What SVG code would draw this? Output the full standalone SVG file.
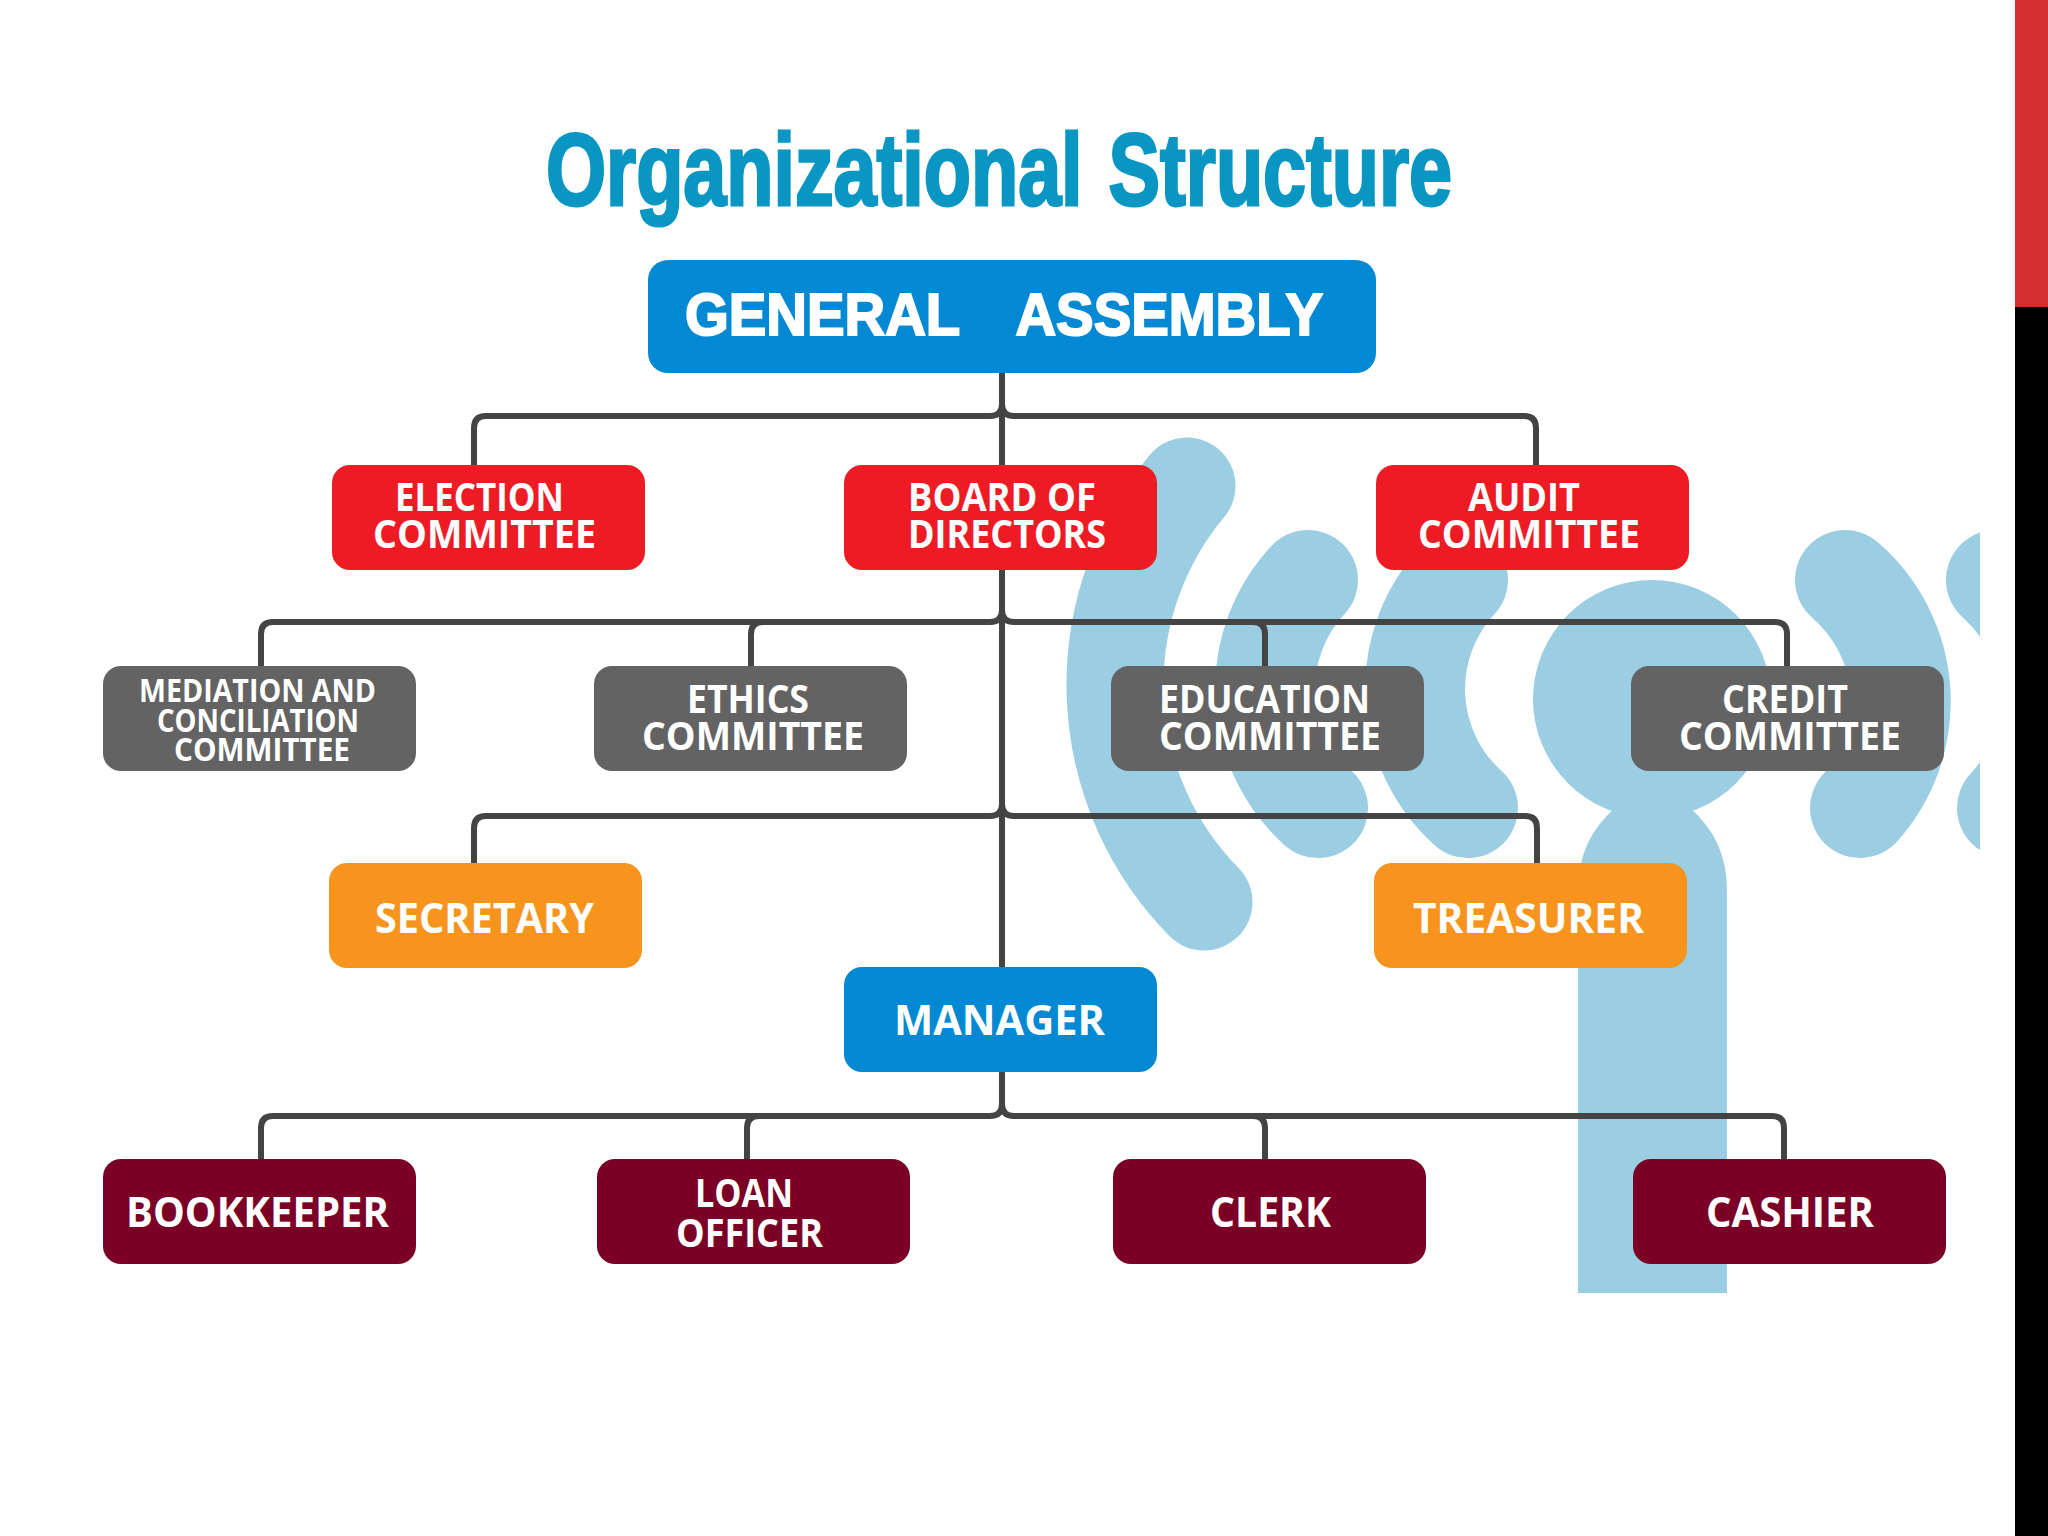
<svg xmlns="http://www.w3.org/2000/svg" width="2048" height="1536" viewBox="0 0 2048 1536">
<style>
.arc{fill:none;stroke:#9bcde3;stroke-width:100;stroke-linecap:round}
.c{fill:none;stroke:#444;stroke-width:6}
.t{font-family:"Open Sans","Liberation Sans",sans-serif;font-weight:700;fill:#fff;font-size:39px}
.s{font-size:32px}.l{font-size:42px}
.blue{fill:#0389d3}.red{fill:#ed1c24}.grey{fill:#636363}.orange{fill:#f7941d}.maroon{fill:#7a0026}
</style>
<defs><clipPath id="cut"><rect x="0" y="0" width="1980" height="1293"/></clipPath>
<rect id="box" width="313" height="105" rx="18"/></defs>
<rect width="2048" height="1536" fill="#fff"/>
<rect x="2015" y="0" width="33" height="307" fill="#d32f2f"/>
<rect x="2015" y="307" width="33" height="1229" fill="#000"/>
<g id="antenna" clip-path="url(#cut)">
<path class="arc" style="stroke-width:97" d="M1187 486A310 310 0 0 0 1204 902"/>
<path class="arc" d="M1308 580A160 160 0 0 0 1318 808"/>
<path class="arc" d="M1458 580A160 160 0 0 0 1468 808"/>
<path class="arc" d="M1845 580A160 160 0 0 1 1860 808"/>
<path class="arc" d="M1996 580A160 160 0 0 1 2007 808"/>
<circle cx="1652" cy="699" r="119" fill="#9bcde3"/>
<path d="M1578 1293V890Q1578 840 1615 808H1690Q1727 840 1727 890V1293Z" fill="#9bcde3"/>
</g>
<text x="546" y="205" font-family="Liberation Sans,sans-serif" font-weight="700" font-size="102" fill="#0a96c3" stroke="#0a96c3" stroke-width="3" word-spacing="6" textLength="906" lengthAdjust="spacingAndGlyphs">Organizational Structure</text>
<g id="connectors">
<path class="c" d="M1002 372V967M1002 1071V1104"/>
<path class="c" d="M474 465V428Q474 416 486 416H990Q1002 416 1002 404M1536 465V428Q1536 416 1524 416H1014Q1002 416 1002 404"/>
<path class="c" d="M261 666V634Q261 622 273 622H990Q1002 622 1002 610M751 666V634Q751 622 763 622M1787 666V634Q1787 622 1775 622H1014Q1002 622 1002 610M1265 666V634Q1265 622 1253 622"/>
<path class="c" d="M474 863V828Q474 816 486 816H990Q1002 816 1002 804M1537 863V828Q1537 816 1525 816H1014Q1002 816 1002 804"/>
<path class="c" d="M261 1159V1128Q261 1116 273 1116H990Q1002 1116 1002 1104M747 1159V1128Q747 1116 759 1116M1784 1159V1128Q1784 1116 1772 1116H1014Q1002 1116 1002 1104M1265 1159V1128Q1265 1116 1253 1116"/>
</g>
<g id="general-assembly"><rect class="blue" x="648" y="260" width="728" height="113" rx="20"/>
<text x="685" y="335" xml:space="preserve" font-family="Liberation Sans,sans-serif" font-weight="700" font-size="59" fill="#fff" stroke="#fff" stroke-width="2" word-spacing="4" textLength="638" lengthAdjust="spacingAndGlyphs">GENERAL   ASSEMBLY</text></g>
<g id="election"><use href="#box" class="red" x="332" y="465"/><text class="t" x="395" y="511" textLength="169" lengthAdjust="spacingAndGlyphs">ELECTION</text><text class="t" x="373" y="548" textLength="223" lengthAdjust="spacingAndGlyphs">COMMITTEE</text></g>
<g id="board"><use href="#box" class="red" x="844" y="465"/><text class="t" x="908" y="511" textLength="188" lengthAdjust="spacingAndGlyphs">BOARD OF</text><text class="t" x="908" y="548" textLength="198" lengthAdjust="spacingAndGlyphs">DIRECTORS</text></g>
<g id="audit"><use href="#box" class="red" x="1376" y="465"/><text class="t" x="1468" y="511" textLength="112" lengthAdjust="spacingAndGlyphs">AUDIT</text><text class="t" x="1418" y="548" textLength="222" lengthAdjust="spacingAndGlyphs">COMMITTEE</text></g>
<g id="mediation"><use href="#box" class="grey" x="103" y="666"/><text class="t s" x="139" y="702" textLength="237" lengthAdjust="spacingAndGlyphs">MEDIATION AND</text><text class="t s" x="157" y="732" textLength="202" lengthAdjust="spacingAndGlyphs">CONCILIATION</text><text class="t s" x="174" y="761" textLength="176" lengthAdjust="spacingAndGlyphs">COMMITTEE</text></g>
<g id="ethics"><use href="#box" class="grey" x="594" y="666"/><text class="t" x="687" y="713" textLength="122" lengthAdjust="spacingAndGlyphs">ETHICS</text><text class="t" x="642" y="750" textLength="222" lengthAdjust="spacingAndGlyphs">COMMITTEE</text></g>
<g id="education"><use href="#box" class="grey" x="1111" y="666"/><text class="t" x="1159" y="713" textLength="211" lengthAdjust="spacingAndGlyphs">EDUCATION</text><text class="t" x="1159" y="750" textLength="222" lengthAdjust="spacingAndGlyphs">COMMITTEE</text></g>
<g id="credit"><use href="#box" class="grey" x="1631" y="666"/><text class="t" x="1722" y="713" textLength="126" lengthAdjust="spacingAndGlyphs">CREDIT</text><text class="t" x="1679" y="750" textLength="222" lengthAdjust="spacingAndGlyphs">COMMITTEE</text></g>
<g id="secretary"><use href="#box" class="orange" x="329" y="863"/><text class="t l" x="375" y="933" textLength="219" lengthAdjust="spacingAndGlyphs">SECRETARY</text></g>
<g id="treasurer"><use href="#box" class="orange" x="1374" y="863"/><text class="t l" x="1413" y="933" textLength="231" lengthAdjust="spacingAndGlyphs">TREASURER</text></g>
<g id="manager"><use href="#box" class="blue" x="844" y="967"/><text class="t l" x="894" y="1035" textLength="211" lengthAdjust="spacingAndGlyphs">MANAGER</text></g>
<g id="bookkeeper"><use href="#box" class="maroon" x="103" y="1159"/><text class="t l" x="126" y="1227" textLength="263" lengthAdjust="spacingAndGlyphs">BOOKKEEPER</text></g>
<g id="loan"><use href="#box" class="maroon" x="597" y="1159"/><text class="t" x="695" y="1207" textLength="98" lengthAdjust="spacingAndGlyphs">LOAN</text><text class="t" x="676" y="1247" textLength="147" lengthAdjust="spacingAndGlyphs">OFFICER</text></g>
<g id="clerk"><use href="#box" class="maroon" x="1113" y="1159"/><text class="t l" x="1210" y="1227" textLength="121" lengthAdjust="spacingAndGlyphs">CLERK</text></g>
<g id="cashier"><use href="#box" class="maroon" x="1633" y="1159"/><text class="t l" x="1706" y="1227" textLength="168" lengthAdjust="spacingAndGlyphs">CASHIER</text></g>
</svg>
